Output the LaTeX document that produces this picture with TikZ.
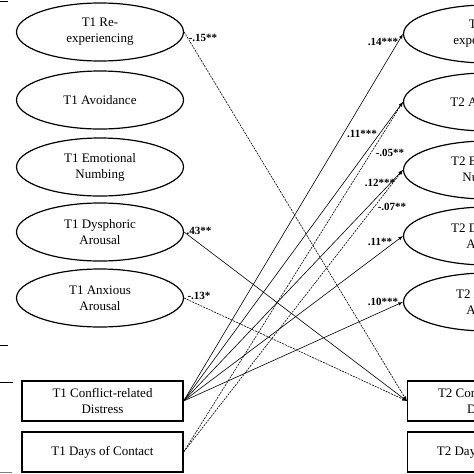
\documentclass[tikz,border=0pt]{standalone}
\usepackage{fontspec}
\setmainfont{Liberation Serif}
\usepackage{tikz}
\usetikzlibrary{arrows}
\usetikzlibrary{shapes,shapes.geometric}

\tikzset{
  factor/.style={draw,ellipse,line width=1.2pt,minimum width=167pt,minimum height=58pt,
    align=center,font=\fontsize{13}{16}\selectfont,inner sep=0pt},
  observed/.style={draw,rectangle,line width=1.2pt,minimum width=161pt,minimum height=40pt,
    align=center,font=\fontsize{13}{16}\selectfont,inner sep=0pt},
  pathpos/.style={-latex,line width=0.6pt},
  pathneg/.style={-latex,line width=0.6pt,dash pattern=on 2pt off 1pt},
  coef/.style={font=\fontsize{11}{12}\selectfont\bfseries,inner sep=0pt}
}

\begin{document}
\begin{tikzpicture}[x=1pt,y=-1pt]
			\useasboundingbox (0,0) rectangle (474,474);
			% T1 column
			\node[factor] (reA) at (100,32) {T1 Re-\\experiencing};
			\node[factor] (avA) at (100,100) {T1 Avoidance};
			\node[factor] (enA) at (100,167) {T1 Emotional\\Numbing};
			\node[factor] (daA) at (100,232) {T1 Dysphoric\\Arousal};
			\node[factor] (aaA) at (100,298) {T1 Anxious\\Arousal};
			\node[observed] (cdA) at (102.5,401) {T1 Conflict-related\\Distress};
			\node[observed] (dcA) at (102.5,452) {T1 Days of Contact};
			
			% T2 column
			\node[factor] (reB) at (487,34) {T2 Re-\\experiencing};
			\node[factor] (avB) at (487,102) {T2 Avoidance};
			\node[factor] (enB) at (487,170) {T2 Emotional\\Numbing};
			\node[factor] (daB) at (487,236) {T2 Dysphoric\\Arousal};
			\node[factor] (aaB) at (487,302) {T2 Anxious\\Arousal};
			\node[observed] (cdB) at (488,401) {T2 Conflict-related\\Distress};
			\node[observed] (dcB) at (488,452) {T2 Days of Contact};
			
			% cross-lagged paths
			\draw[pathneg] (reA.east) -- (cdB.west);
			\draw[pathpos] (daA.east) -- (cdB.west);
			\draw[pathneg] (aaA.east) -- (cdB.west);
			\foreach \t in {reB,avB,enB,daB,aaB}
				\draw[pathpos] (cdA.east) -- (\t.west);
			\draw[pathneg] (dcA.east) -- (avB.west);
			\draw[pathneg] (dcA.east) -- (enB.west);
			
			% coefficients
			\node[coef] (c1) at (203,38) {-.15**};
			\node[coef] (c2) at (199,231) {.43**};
			\node[coef] (c3) at (199,296) {-.13*};
			\node[coef] (c4) at (383,42) {.14***};
			\node[coef] (c5) at (362,134) {.11***};
			\node[coef] (c6) at (390,153) {-.05**};
			\node[coef] (c7) at (380,183) {.12***};
			\node[coef] (c8) at (392,207) {-.07**};
			\node[coef] (c9) at (380,242) {.11**};
			\node[coef] (c10) at (383,302) {.10***};
			
			% cut-off marks at the left edge
			\draw[line width=0.6pt] (0,1) -- (8,1);
			\draw[line width=0.6pt] (0,345) -- (8,345);
			\draw[line width=0.6pt] (0,382) -- (13,382);
			\draw[line width=0.8pt,gray] (0,472) -- (12,472);
		\end{tikzpicture}
\end{document}
